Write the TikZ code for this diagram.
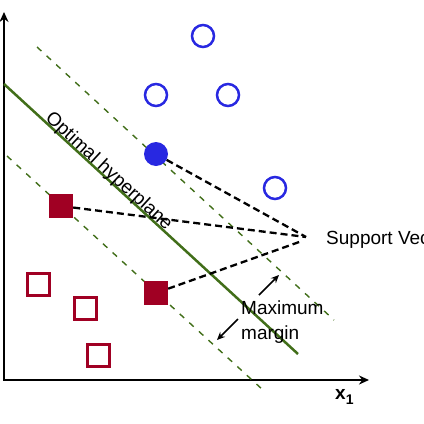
\documentclass[tikz,border=0pt]{standalone}
\usepackage{fontspec}
\setmainfont{Liberation Sans}
\usetikzlibrary{arrows.meta}
\definecolor{svblue}{RGB}{40,40,225}
\definecolor{svred}{RGB}{160,0,35}
\definecolor{svgreen}{RGB}{65,110,25}
\begin{document}
\begin{tikzpicture}[x=1pt,y=-1pt,
 opencirc/.style={circle,draw=svblue,line width=2.5pt,minimum size=22pt,inner sep=0pt},
 fullcirc/.style={circle,fill=svblue,minimum size=24pt,inner sep=0pt},
 opensq/.style={rectangle,draw=svred,line width=3pt,minimum size=22pt,inner sep=0pt},
 fullsq/.style={rectangle,fill=svred,minimum size=24pt,inner sep=0pt},
 axisline/.style={line width=2.5pt,{Stealth[length=10pt,width=9pt]}-{Stealth[length=10pt,width=9pt]}},
 hyper/.style={svgreen,line width=2.5pt},
 marginline/.style={svgreen,line width=1.4pt,dash pattern=on 6pt off 7pt},
 svline/.style={black,line width=2.3pt,dash pattern=on 7pt off 4pt},
 lbl/.style={font=\fontsize{19}{25}\selectfont,inner sep=0pt},
 marrow/.style={line width=1.7pt,-{Stealth[length=8pt,width=7pt]}}
]
\useasboundingbox (0,0) rectangle (424,424);
\clip (0,0) rectangle (424,424);
% axes
\coordinate (O) at (4,380);
\coordinate (ytop) at (4,12);
\coordinate (xend) at (369,380);
\draw[axisline] (ytop) -- (O) -- (xend);
% hyperplane and margins
\coordinate (h1) at (4,84); \coordinate (h2) at (298,354);
\coordinate (u1) at (37,47); \coordinate (u2) at (334,320);
\coordinate (l1) at (7,156); \coordinate (l2) at (263,390);
\draw[marginline] (u1) -- (u2);
\draw[marginline] (l1) -- (l2);
\draw[hyper] (h1) -- (h2);
% points
\node[opencirc] (c1) at (203,36) {};
\node[opencirc] (c2) at (156,95) {};
\node[opencirc] (c3) at (228,95) {};
\node[opencirc] (c4) at (275,188) {};
\node[fullcirc] (c5) at (156,154) {};
\node[fullsq] (s1) at (61,206) {};
\node[fullsq] (s2) at (156,293) {};
\node[opensq] (s3) at (38,284) {};
\node[opensq] (s4) at (85,308) {};
\node[opensq] (s5) at (98,355) {};
% support vector pointers
\coordinate (sv) at (306,237);
\coordinate (svb) at (302,241);
\draw[svline] (c5) -- (sv);
\draw[svline] (s1) -- (sv);
\draw[svline] (s2) -- (svb);
\node[lbl,anchor=base west] (svtext) at (326,244) {Support Vectors};
% optimal hyperplane label
\node[lbl,anchor=base west,rotate=-42.56] (optlbl) at (44.5,119.5) {Optimal hyperplane};
% maximum margin
\node[lbl,anchor=north west,align=left] (mm) at (241,301) {Maximum\\margin};
\coordinate (a1s) at (259,295); \coordinate (a1e) at (279,275);
\coordinate (a2s) at (238,319); \coordinate (a2e) at (217,340);
\draw[marrow] (a1s) -- (a1e);
\draw[marrow] (a2s) -- (a2e);
% x1 label
\node[inner sep=0pt,anchor=base west] (xlbl) at (335,399) {\fontsize{19}{20}\selectfont\bfseries x\raisebox{-5pt}{\fontsize{14}{14}\selectfont 1}};
\end{tikzpicture}
\end{document}
